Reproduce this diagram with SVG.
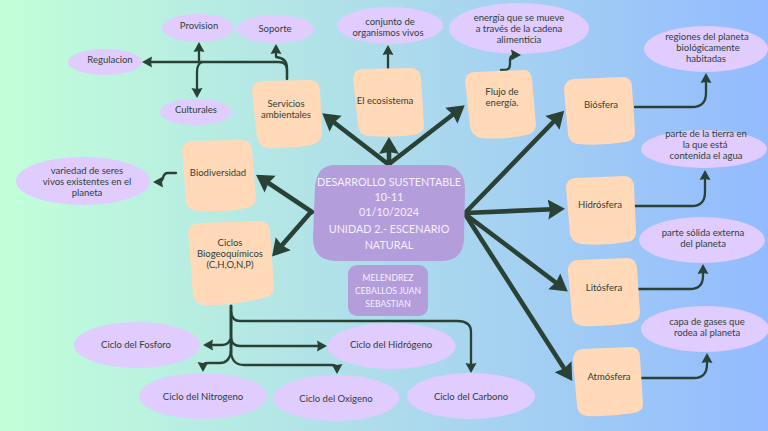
<svg xmlns="http://www.w3.org/2000/svg" width="768" height="431" viewBox="0 0 768 431">
<style>
.o{fill:#e0ccff}
.b{fill:#ffd9b8}
.p{fill:#b39ddb}
text{font-family:"Lato","Liberation Sans",sans-serif;font-size:9.5px;fill:#2f3f3a;text-anchor:middle}
.w{fill:#f6f0ff;font-size:10.8px}
.s{fill:#f6f0ff;font-size:8.6px}
.c{fill:none;stroke:#2a4236;stroke-linecap:round;stroke-linejoin:round}
.t{stroke-width:2.3}
.m{stroke-width:3}
.h{stroke-width:4.6}
</style>
<defs>
<linearGradient id="bg" x1="0" y1="0" x2="1" y2="0"><stop offset="0" stop-color="#c2ffd8"/><stop offset=".5" stop-color="#aedceb"/><stop offset="1" stop-color="#93bbff"/></linearGradient>
<marker id="a" markerUnits="userSpaceOnUse" markerWidth="12" markerHeight="12" refX="5" refY="6" orient="auto"><path d="M0 .5L10 6L0 11.5L1 6Z" fill="#2a4236"/></marker>
<marker id="A" markerUnits="userSpaceOnUse" markerWidth="22" markerHeight="22" refX="11" refY="11" orient="auto"><path d="M0 1L17 11L0 21L2 11Z" fill="#2a4236"/></marker>
</defs>
<rect width="768" height="431" fill="url(#bg)"/>
<g id="n-provision"><ellipse class="o" cx="198" cy="28" rx="36" ry="14"/><text x="199" y="29">Provision</text></g>
<g id="n-soporte"><ellipse class="o" cx="275" cy="29" rx="39" ry="14"/><text x="275" y="32">Soporte</text></g>
<g id="n-regulacion"><ellipse class="o" cx="105" cy="62" rx="37" ry="13"/><text x="110" y="63">Regulacion</text></g>
<g id="n-culturales"><ellipse class="o" cx="196" cy="112" rx="36" ry="13"/><text x="196" y="113">Culturales</text></g>
<g id="n-conjunto"><ellipse class="o" cx="390" cy="25.5" rx="53" ry="18.5"/><text x="390" y="25">conjunto de</text><text x="388" y="36">organismos vivos</text></g>
<g id="n-energia"><ellipse class="o" cx="519" cy="28.5" rx="70" ry="25.5"/><text x="519" y="21">energía que se mueve</text><text x="519" y="32">a través de la cadena</text><text x="519" y="43">alimenticia</text></g>
<g id="n-regiones"><ellipse class="o" cx="706" cy="49" rx="62" ry="23"/><text x="707" y="40">regiones del planeta</text><text x="708" y="51">biológicamente</text><text x="706" y="62">habitadas</text></g>
<g id="n-tierra"><ellipse class="o" cx="704" cy="149" rx="63" ry="19"/><text x="706" y="137">parte de la tierra en</text><text x="705" y="148">la que está</text><text x="706" y="159">contenida el agua</text></g>
<g id="n-solida"><ellipse class="o" cx="702" cy="240" rx="63" ry="23"/><text x="703" y="236">parte sólida externa</text><text x="703" y="247">del planeta</text></g>
<g id="n-gases"><ellipse class="o" cx="705" cy="329" rx="64" ry="23"/><text x="707" y="325">capa de gases que</text><text x="707" y="336">rodea al planeta</text></g>
<g id="n-variedad"><ellipse class="o" cx="83" cy="181" rx="67" ry="24"/><text x="87" y="174">variedad de seres</text><text x="87" y="185">vivos existentes en el</text><text x="87" y="196">planeta</text></g>
<g id="n-fosforo"><ellipse class="o" cx="137" cy="345" rx="63" ry="23"/><text x="136" y="348">Ciclo del Fosforo</text></g>
<g id="n-hidrogeno"><ellipse class="o" cx="391.5" cy="346" rx="64" ry="23"/><text x="391" y="348">Ciclo del Hidrógeno</text></g>
<g id="n-nitrogeno"><ellipse class="o" cx="203" cy="396" rx="64" ry="23"/><text x="203" y="400">Ciclo del Nitrogeno</text></g>
<g id="n-oxigeno"><ellipse class="o" cx="336" cy="398" rx="63" ry="23"/><text x="336" y="402">Ciclo del Oxigeno</text></g>
<g id="n-carbono"><ellipse class="o" cx="471" cy="396" rx="64" ry="23"/><text x="471" y="400">Ciclo del Carbono</text></g>
<g id="connectors">
<path class="c t" marker-end="url(#a)" d="M287 79V70Q287 62 279 62H147"/>
<path class="c t" marker-end="url(#a)" d="M287 79V68Q287 58 276 57V49"/>
<path class="c t" marker-end="url(#a)" d="M199 61V47"/>
<path class="c t" marker-end="url(#a)" d="M202 62Q197 64 197 72V93"/>
<path class="c t" marker-end="url(#a)" d="M388 68V50"/>
<path class="c t" marker-end="url(#a)" d="M501 70H505Q510 70 510 64V60Q510 55 516 55"/>
<path class="c t" marker-end="url(#a)" d="M176 173H168Q164 173 163 178Q162 182 158 182"/>
<path class="c t" marker-end="url(#a)" d="M635 107H692Q706 107 706 93V78"/>
<path class="c t" marker-end="url(#a)" d="M634 206H692Q705 206 705 192V175"/>
<path class="c t" marker-end="url(#a)" d="M638 289H690Q703 289 703 276V269"/>
<path class="c t" marker-end="url(#a)" d="M641 378H694Q707 378 707 364V358"/>
<path class="c m" d="M231 306V352"/>
<path class="c t" marker-end="url(#a)" d="M231 312Q232 321 240 321H457Q471 321 471 332V368"/>
<path class="c t" marker-end="url(#a)" d="M231 338Q232 346 240 346H322"/>
<path class="c t" marker-end="url(#a)" d="M230 340Q228 345 222 345H208"/>
<path class="c t" marker-end="url(#a)" d="M231 352Q232 365 244 365H331Q337 365 337 369"/>
<path class="c t" marker-end="url(#a)" d="M231 352Q229 363 220 363H208Q203 363 203 367"/>
<path class="c h" marker-end="url(#A)" d="M388 164L327 117"/>
<path class="c h" marker-end="url(#A)" d="M389 164V143"/>
<path class="c h" marker-end="url(#A)" d="M389 164L460 109"/>
<path class="c h" marker-end="url(#A)" d="M312 212L261 178"/>
<path class="c h" marker-end="url(#A)" d="M311 212L276 252"/>
<path class="c h" marker-end="url(#A)" d="M465 213L560 115"/>
<path class="c h" marker-end="url(#A)" d="M465 213L559 209"/>
<path class="c h" marker-end="url(#A)" d="M465 214L563 288"/>
<path class="c h" marker-end="url(#A)" d="M465 214L569 376"/>
</g>
<g id="n-servicios"><path class="b" d="M262 81L310 80Q319 80 320 90L322 132Q322 143 311 145Q290 149 268 148Q259 147 257 137L252 92Q252 82 262 81Z"/><text x="286" y="107">Servicios</text><text x="286" y="118">ambientales</text></g>
<g id="n-ecosistema"><path class="b" d="M362 69L412 68Q420 69 421 78L424 125Q424 134 414 135Q391 138 368 136Q359 135 358 126L353 78Q353 70 362 69Z"/><text x="385" y="104">El ecosistema</text></g>
<g id="n-flujo"><path class="b" d="M474 72L524 70Q531 70 532 79L536 125Q535 134 526 135Q503 140 481 138Q472 136 470 127L465 80Q466 73 474 72Z"/><text x="502" y="95">Flujo de</text><text x="502" y="106">energía.</text></g>
<g id="n-biosfera"><path class="b" d="M574 79L624 77Q632 78 632 87L635 132Q635 141 625 142Q601 146 578 144Q569 143 568 134L564 90Q564 80 574 79Z"/><text x="601" y="108">Biósfera</text></g>
<g id="n-hidrosfera"><path class="b" d="M575 178L625 176Q633 177 634 186L636 232Q636 241 627 242Q603 246 582 244Q572 243 570 234L566 188Q566 179 575 178Z"/><text x="600" y="208">Hidrósfera</text></g>
<g id="n-litosfera"><path class="b" d="M577 260L628 258Q636 259 637 268L640 313Q640 321 630 323Q606 327 583 326Q573 325 572 316L568 271Q568 261 577 260Z"/><text x="604" y="291">Litósfera</text></g>
<g id="n-atmosfera"><path class="b" d="M582 349L632 347Q640 348 640 357L643 404Q643 412 633 413Q610 417 587 416Q578 415 577 406L573 360Q573 350 582 349Z"/><text x="609" y="380">Atmósfera</text></g>
<g id="n-biodiversidad"><path class="b" d="M192 141L243 140Q251 141 252 150L256 198Q256 206 246 208Q222 213 197 211Q187 210 186 201L182 151Q182 142 192 141Z"/><text x="218" y="176">Biodiversidad</text></g>
<g id="n-ciclos"><path class="b" d="M198 223L260 221Q269 222 270 231L274 287Q274 296 264 298Q228 306 204 305Q194 304 193 295L188 232Q189 224 198 223Z"/><text x="230" y="246">Ciclos</text><text x="230" y="257">Biogeoquímicos</text><text x="230" y="268">(C,H,O,N,P)</text></g>
<g id="n-centro"><path class="p" d="M335 165L445 165Q465 167 465 190L464 240Q462 261 442 261L335 261Q313 260 313 238L315 187Q317 165 335 165Z"/><text class="w" x="389" y="186">DESARROLLO SUSTENTABLE</text><text class="w" x="389" y="201">10-11</text><text class="w" x="389" y="216">01/10/2024</text><text class="w" x="389" y="233">UNIDAD 2.- ESCENARIO</text><text class="w" x="389" y="249">NATURAL</text></g>
<g id="n-autor"><rect class="p" x="348" y="265" width="80" height="51" rx="9"/><text class="s" x="388" y="281">MELENDREZ</text><text class="s" x="388" y="294">CEBALLOS JUAN</text><text class="s" x="388" y="307">SEBASTIAN</text></g>
</svg>
